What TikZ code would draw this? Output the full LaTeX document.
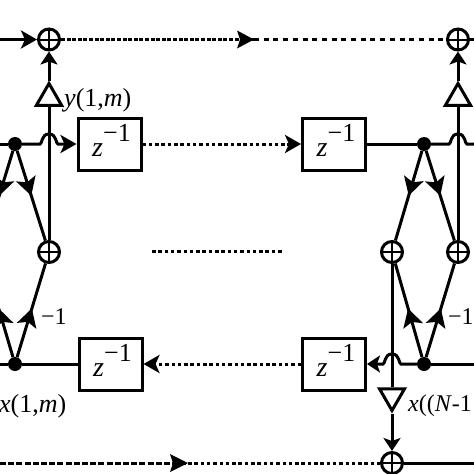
\documentclass[tikz,border=0pt]{standalone}
\usepackage{fontspec}
\setmainfont{Liberation Serif}
\usetikzlibrary{arrows.meta,decorations.markings,shapes.geometric,calc}
\tikzset{
  wire/.style={line width=3pt},
  tipA/.style={-{Stealth[length=16pt,width=18pt,inset=4pt]}},
  tipB/.style={-{Stealth[length=13pt,width=17pt,inset=3pt]}},
  midtip/.style={postaction={decorate},decoration={markings,mark=at position #1 with {\arrow{Stealth[length=18pt,width=20pt,inset=4pt]}}}},
  adder/.style={circle,draw,line width=3pt,minimum size=21pt,inner sep=0pt,
    path picture={\draw[line width=2pt] (path picture bounding box.north)--(path picture bounding box.south) (path picture bounding box.west)--(path picture bounding box.east);}},
  dotnode/.style={circle,fill,minimum size=14pt,inner sep=0pt},
  delay/.style={draw,line width=3pt,minimum width=63pt,minimum height=52pt,inner sep=0pt,fill=white},
  amp/.style={regular polygon,regular polygon sides=3,draw,line width=3pt,minimum size=29pt,inner sep=0pt,fill=white},
  fine/.style={dash pattern=on 3.5pt off 2.8pt},
  finetop/.style={dash pattern=on 4pt off 1.6pt},
  wide/.style={dash pattern=on 5pt off 4.7pt},
  longd/.style={dash pattern=on 6pt off 2.2pt},
  lab/.style={inner sep=0pt,font=\fontsize{26}{26}\selectfont,anchor=base west},
  labs/.style={inner sep=0pt,font=\fontsize{24}{24}\selectfont,anchor=base west},
  ztext/.style={inner sep=0pt,anchor=base},
}
\newcommand{\zinv}{{\fontsize{28}{28}\selectfont\itshape z}\raisebox{15pt}{\fontsize{26}{26}\selectfont −1}}
\begin{document}
\begin{tikzpicture}[x=1pt,y=-1pt]
\useasboundingbox (0,0) rectangle (474,474);
\clip (0,0) rectangle (474,474);
% nodes
\node[adder] (a1) at (49,39.5) {};
\node[adder] (a2) at (458,39.5) {};
\node[adder] (a3) at (49,252) {};
\node[adder] (a4) at (392,252) {};
\node[adder] (a5) at (458,252) {};
\node[adder] (a6) at (392,463) {};
\node[adder] (a0) at (-18,252) {};
\node[dotnode] (d1) at (15,144) {};
\node[dotnode] (d2) at (424,144) {};
\node[dotnode] (d3) at (15,364) {};
\node[dotnode] (d4) at (424,364) {};
\node[delay] (z1) at (109.5,144) {};
\node[delay] (z2) at (334,144) {};
\node[delay] (z3) at (110.5,364) {};
\node[delay] (z4) at (334,364) {};
\node[amp] (t1) at (49,98) {};
\node[amp] (t2) at (458,98) {};
\node[amp,shape border rotate=180] (t3) at (392,396) {};
\coordinate (w1) at (0,39.5);
\coordinate (m1) at (254,39.5);
\coordinate (e1) at (474,39.5);
\coordinate (w2) at (0,144);
\coordinate (e2) at (474,144);
\coordinate (h1) at (49,144);
\coordinate (h2) at (458,144);
\coordinate (w3) at (0,364);
\coordinate (e3) at (474,364);
\coordinate (h3) at (392,364);
\coordinate (w4) at (0,463);
\coordinate (m4) at (188,463);
\coordinate (e4) at (474,463);
\coordinate (s4) at (392,474);
\coordinate (c1) at (152,251);
\coordinate (c2) at (284,251);
\begin{scope}[wire]
% top rail
\draw[tipA] (w1) -- (a1);
\draw[finetop] (a1) -- (m1);
\draw[wide] (m1) -- (a2);
\draw (a2) -- (e1);
% into top adders
\draw[tipB] (t1.corner 1) -- (a1);
\draw[tipB] (t2.corner 1) -- (a2);
\draw (a3) -- (t1.side 2);
\draw (a5) -- (t2.side 2);
% upper delay row
\draw (d1) -- (w2);
\draw[tipA] (d1) -- ([xshift=-9pt]h1) .. controls ([xshift=-6.5pt]h1) and ([xshift=-8pt,yshift=10pt]h1) .. ([yshift=10pt]h1) .. controls ([xshift=8pt,yshift=10pt]h1) and ([xshift=6.5pt]h1) .. ([xshift=9pt]h1) -- (z1.west);
\draw[fine,tipA] (z1.east) -- (z2.west);
\draw (z2.east) -- (d2);
\draw (d2) -- ([xshift=-9pt]h2) .. controls ([xshift=-6.5pt]h2) and ([xshift=-8pt,yshift=10pt]h2) .. ([yshift=10pt]h2) .. controls ([xshift=8pt,yshift=10pt]h2) and ([xshift=6.5pt]h2) .. ([xshift=9pt]h2) -- (e2);
% butterflies
\draw[midtip=0.5] (d1) -- (a0);
\draw[midtip=0.5] (d1) -- (a3);
\draw[midtip=0.5] (d2) -- (a4);
\draw[midtip=0.5] (d2) -- (a5);
\draw[midtip=0.52] (d3) -- (a0);
\draw[midtip=0.52] (d3) -- (a3);
\draw[midtip=0.52] (d4) -- (a4);
\draw[midtip=0.52] (d4) -- (a5);
% lower delay row
\draw (w3) -- (d3);
\draw (d3) -- (z3.west);
\draw[fine,tipA] (z4.west) -- (z3.east);
\draw (e3) -- (d4);
\draw[tipB] (d4) -- ([xshift=9pt]h3) .. controls ([xshift=6.5pt]h3) and ([xshift=8pt,yshift=10pt]h3) .. ([yshift=10pt]h3) .. controls ([xshift=-8pt,yshift=10pt]h3) and ([xshift=-6.5pt]h3) .. ([xshift=-9pt]h3) -- (z4.east);
% output leg
\draw (a4) -- (t3.side 2);
\draw[tipB] (t3.corner 1) -- (a6);
\draw (a6) -- (s4);
\draw (a6) -- (e4);
% bottom rail
\draw[longd] (w4) -- (m4);
\draw[fine] (m4) -- (a6);
% middle dots
\draw[fine] (c1) -- (c2);
\end{scope}
\fill ($(m1)+(-17,-9)$) -- (m1) -- ($(m1)+(-17,9)$) -- ($(m1)+(-14,0)$) -- cycle;
\fill ($(m4)+(-18,-9)$) -- (m4) -- ($(m4)+(-18,9)$) -- ($(m4)+(-15,0)$) -- cycle;
% texts
\node[ztext] (zt1) at (111.5,156) {\zinv};
\node[ztext] (zt2) at (336,156) {\zinv};
\node[ztext] (zt3) at (112.5,376) {\zinv};
\node[ztext] (zt4) at (336,376) {\zinv};
\node[lab] (l1) at (64,106) {\textit{y}(1,\textit{m})};
\node[lab] (l2) at (-1,412) {\textit{x}(1,\textit{m})};
\node[labs] (l3) at (408,411) {\textit{x}((\textit{N}-1};
\node[labs] (l4) at (41,324) {−1};
\node[labs] (l5) at (448,324) {−1};
\end{tikzpicture}
\end{document}
